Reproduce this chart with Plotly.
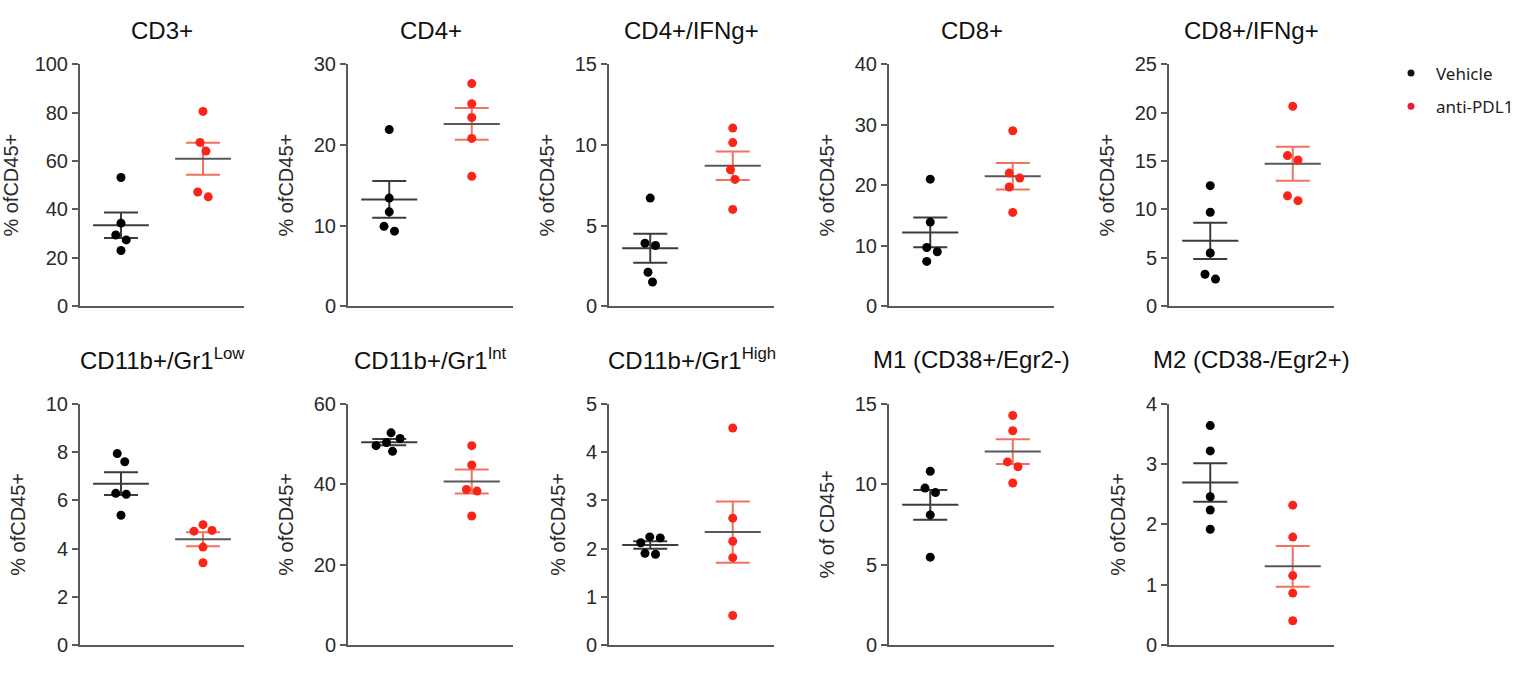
import numpy as np
import plotly.graph_objects as go

# ---------------- data ----------------
panel_titles = ["CD3+", "CD4+", "CD4+/IFNg+", "CD8+", "CD8+/IFNg+",
                "CD11b+/Gr1<sup>Low</sup>", "CD11b+/Gr1<sup>Int</sup>",
                "CD11b+/Gr1<sup>High</sup>", "M1 (CD38+/Egr2-)", "M2 (CD38-/Egr2+)"]
y_titles = ["% ofCD45+"] * 8 + ["% of CD45+", "% ofCD45+"]
groups = ["Vehicle", "anti-PDL1"]

cd3_vehicle = [53.2, 34.3, 29.4, 27.4, 23.0]
cd3_anti = [80.5, 67.7, 64.1, 47.2, 45.2]
cd4_vehicle = [21.9, 13.4, 11.7, 9.9, 9.3]
cd4_anti = [27.6, 25.1, 23.4, 20.8, 16.1]
cd4ifng_vehicle = [6.7, 3.9, 3.76, 2.1, 1.5]
cd4ifng_anti = [11.04, 10.14, 8.46, 7.86, 6.0]
cd8_vehicle = [21.0, 13.9, 9.7, 9.0, 7.4]
cd8_anti = [29.0, 22.0, 21.2, 19.7, 15.5]
cd8ifng_vehicle = [12.45, 9.7, 5.5, 3.3, 2.8]
cd8ifng_anti = [20.65, 15.56, 15.1, 11.4, 10.9]
gr1low_vehicle = [7.94, 7.6, 6.29, 6.25, 5.38]
gr1low_anti = [4.99, 4.75, 4.72, 4.06, 3.41]
gr1int_vehicle = [52.8, 51.4, 50.4, 49.6, 48.2]
gr1int_anti = [49.6, 44.8, 38.7, 38.3, 32.1]
gr1high_vehicle = [2.24, 2.22, 2.12, 1.9, 1.88]
gr1high_anti = [4.5, 2.63, 2.15, 1.81, 0.61]
m1_vehicle = [10.81, 9.76, 9.48, 8.09, 5.46]
m1_anti = [14.28, 13.33, 11.39, 11.09, 10.08]
m2_vehicle = [3.64, 3.22, 2.46, 2.24, 1.92]
m2_anti = [2.32, 1.79, 1.15, 0.86, 0.40]

vehicle_sets = [cd3_vehicle, cd4_vehicle, cd4ifng_vehicle, cd8_vehicle, cd8ifng_vehicle,
                gr1low_vehicle, gr1int_vehicle, gr1high_vehicle, m1_vehicle, m2_vehicle]
anti_sets = [cd3_anti, cd4_anti, cd4ifng_anti, cd8_anti, cd8ifng_anti,
             gr1low_anti, gr1int_anti, gr1high_anti, m1_anti, m2_anti]

y_max = [100, 30, 15, 40, 25, 10, 60, 5, 15, 4]
y_dtick = [20, 10, 5, 10, 5, 2, 20, 1, 5, 1]

# ---------------- layout geometry (pixels) ----------------
W, H = 1536, 683
x_px = [(80, 244), (348, 513), (609, 774), (889, 1054), (1169, 1334)]
y_px_rows = [(55, 305), (406, 655)]
title_y_px = [20, 360]

VEH_COLOR = "#000000"
ANTI_COLOR = "#fa2419"
VEH_LINE = "#3c3c3c"
ANTI_MEAN = "#585858"
ANTI_ERR = "#f27262"
AXIS_COLOR = "#5a5a5a"
FONT = "Liberation Sans, Arial, sans-serif"
MARKER = 9


def swarm(vals, ypx, xpx, d=10.5, step=1.5):
    """Simple beeswarm: non-overlapping horizontal offsets (in axis units)."""
    order = sorted(range(len(vals)), key=lambda i: -vals[i])
    pos = {}
    cands = [0.0] + [s * j * step for j in range(1, 60) for s in (1, -1)]
    for i in order:
        y = vals[i] * ypx
        for c in cands:
            if all((c - px) ** 2 + (y - py) ** 2 >= d * d for px, py in pos.values()):
                pos[i] = (c, y)
                break
    n = len(vals)
    parent = list(range(n))

    def find(a):
        while parent[a] != a:
            a = parent[a]
        return a
    for a in range(n):
        for b in range(a + 1, n):
            if abs(pos[a][1] - pos[b][1]) < d:
                parent[find(a)] = find(b)
    comps = {}
    for a in range(n):
        comps.setdefault(find(a), []).append(a)
    offs = [0.0] * n
    for members in comps.values():
        m = np.mean([pos[a][0] for a in members])
        for a in members:
            offs[a] = (pos[a][0] - m) / xpx
    return offs


fig = go.Figure()
annotations = []

for p in range(10):
    row, col = divmod(p, 5)
    x0, x1 = x_px[col]
    yt, yb = y_px_rows[row]
    k = p + 1
    xa = "x" if k == 1 else f"x{k}"
    ya = "y" if k == 1 else f"y{k}"
    xpx = (x1 - x0) / 2.0
    ypx = (yb - yt) / y_max[p]

    for gi, (vals, pcol, mcol, ecol) in enumerate([
            (vehicle_sets[p], VEH_COLOR, VEH_LINE, VEH_LINE),
            (anti_sets[p], ANTI_COLOR, ANTI_MEAN, ANTI_ERR)]):
        arr = np.array(vals)
        mean = arr.mean()
        sem = arr.std(ddof=1) / np.sqrt(len(arr))
        fig.add_trace(go.Scatter(
            x=[gi], y=[mean], mode="markers",
            marker=dict(size=1, color="rgba(0,0,0,0)"),
            error_y=dict(type="data", array=[sem], symmetric=True,
                         color=ecol, thickness=2, width=17),
            xaxis=xa, yaxis=ya, showlegend=False, hoverinfo="skip"))
        fig.add_trace(go.Scatter(
            x=[gi - 0.34, gi + 0.34], y=[mean, mean], mode="lines",
            line=dict(color=mcol, width=2),
            xaxis=xa, yaxis=ya, showlegend=False, hoverinfo="skip"))
        offs = swarm(vals, ypx, xpx)
        fig.add_trace(go.Scatter(
            x=[gi + o for o in offs], y=vals, mode="markers",
            marker=dict(size=MARKER, color=pcol),
            xaxis=xa, yaxis=ya, showlegend=False, name=groups[gi]))

    xdom = [x0 / W, x1 / W]
    ydom = [1 - yb / H, 1 - yt / H]
    fig.layout[f"xaxis{'' if k == 1 else k}"] = dict(
        domain=xdom, range=[-0.5, 1.5], anchor=ya,
        showline=True, linecolor=AXIS_COLOR, linewidth=2,
        showticklabels=False, ticks="", showgrid=False, zeroline=False,
        fixedrange=True)
    fig.layout[f"yaxis{'' if k == 1 else k}"] = dict(
        domain=ydom, range=[0, y_max[p]], anchor=xa, dtick=y_dtick[p], tick0=0,
        showline=True, linecolor=AXIS_COLOR, linewidth=2,
        ticks="outside", ticklen=6, tickwidth=2, tickcolor=AXIS_COLOR,
        tickfont=dict(family=FONT, size=20, color="#2a2a2a"),
        showgrid=False, zeroline=False,
        title=dict(text=y_titles[p], font=dict(family=FONT, size=20, color="#2a2a2a")),
        fixedrange=True)
    annotations.append(dict(
        text=panel_titles[p], xref="paper", yref="paper",
        x=(x0 + x1) / 2 / W, y=1 - title_y_px[row] / H,
        xanchor="center", yanchor="middle", showarrow=False,
        font=dict(family=FONT, size=24, color="#111111")))

for name, colr in [("Vehicle", "#111111"), ("anti-PDL1", "#e8203a")]:
    fig.add_trace(go.Scatter(x=[None], y=[None], mode="markers", name=name,
                             legendgroup=name,
                             marker=dict(size=7, color=colr), showlegend=True))

fig.update_layout(
    width=W, height=H, margin=dict(l=0, r=0, t=0, b=0),
    paper_bgcolor="white", plot_bgcolor="white",
    annotations=annotations,
    showlegend=True,
    legend=dict(x=1386 / W, y=1 - 46 / H, xanchor="left", yanchor="top",
                font=dict(family="Noto Sans, sans-serif", size=17, color="#222222"),
                traceorder="grouped", tracegroupgap=8, itemwidth=40,
                bgcolor="rgba(0,0,0,0)"),
)

fig.write_html("out.html")
